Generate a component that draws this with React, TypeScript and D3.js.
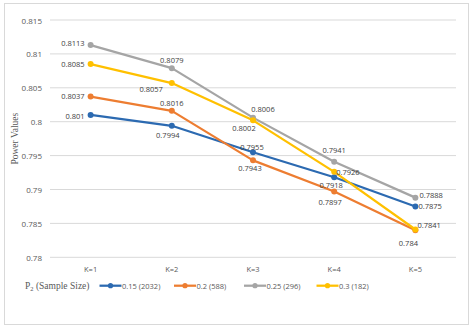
import React from 'react';
import * as d3 from 'd3';

// chart data
const categories = ['K=1', 'K=2', 'K=3', 'K=4', 'K=5'];
const seriesNames = ['0.15 (2032)', '0.2 (588)', '0.25 (296)', '0.3 (182)'];
const p015 = [0.801, 0.7994, 0.7955, 0.7918, 0.7875];
const p02 = [0.8037, 0.8016, 0.7943, 0.7897, 0.784];
const p025 = [0.8113, 0.8079, 0.8006, 0.7941, 0.7888];
const p03 = [0.8085, 0.8057, 0.8002, 0.7926, 0.7841];
const yTicks = [0.78, 0.785, 0.79, 0.795, 0.8, 0.805, 0.81, 0.815];
const labelText = (v: number) => String(v);

const colors = ['#2C6AB1', '#ED7D31', '#A5A5A5', '#FFC000'];

// label placement per series/point: [anchor, dx, dy] relative to the marker
type Place = ['start' | 'middle' | 'end', number, number];
const placements: Place[][] = [
  [['end', -6, 1], ['middle', -4, 9], ['middle', -1, -5], ['middle', -3, 8], ['start', 3, 0]],
  [['end', -6, -1], ['middle', 0, -8], ['middle', -3, 7.5], ['middle', -4, 10], ['middle', -7, 12.5]],
  [['end', -6, -2], ['middle', 0, -8], ['middle', 10, -8.5], ['middle', 0, -12], ['start', 4, -2.5]],
  [['end', -6, 0], ['end', -9, 6], ['middle', -9, 8], ['start', 2, 0.5], ['start', 2, -4.5]],
];

const W = 474;
const H = 330;
const plot = { left: 50, right: 456, top: 20, bottom: 257.3 };

export default function App() {
  const series = [p015, p02, p025, p03];

  const x = d3.scalePoint<string>()
    .domain(categories)
    .range([plot.left, plot.right])
    .padding(0.5);

  const y = d3.scaleLinear()
    .domain([0.78, 0.815])
    .range([plot.bottom, plot.top]);

  const line = d3.line<number>()
    .x((d, i) => x(categories[i]) as number)
    .y(d => y(d));

  const sans = '"Open Sans", sans-serif';
  const serif = '"Liberation Serif", serif';

  // legend layout
  const legendY = 285.7;
  const legendX = [99.5, 174, 244, 316.5];

  return (
    <svg width={W} height={H} style={{ position: 'absolute', left: 0, top: 0, background: '#fff' }}>
      <rect x={4.5} y={3.5} width={464} height={321} fill="#fff" stroke="#d9d9d9" strokeWidth={1} />

      {/* gridlines + y ticks */}
      {yTicks.map(t => (
        <g key={t}>
          <line x1={plot.left} x2={plot.right} y1={y(t)} y2={y(t)} stroke="#d9d9d9" strokeWidth={1} />
          <text x={42} y={y(t)} textAnchor="end" dominantBaseline="central"
            fontFamily={sans} fontSize={8} fill="#595959">{t}</text>
        </g>
      ))}

      {/* category labels */}
      {categories.map(c => (
        <text key={c} x={x(c)} y={269} textAnchor="middle" dominantBaseline="central"
          fontFamily={sans} fontSize={7.5} fill="#595959">{c}</text>
      ))}

      {/* y axis title */}
      <text transform={`translate(15,${(plot.top + plot.bottom) / 2}) rotate(-90)`}
        textAnchor="middle" dominantBaseline="central" fontFamily={serif} fontSize={9.5} fill="#595959">
        Power Values
      </text>

      {/* series lines */}
      {series.map((s, si) => (
        <g key={si}>
          <path d={line(s) || ''} fill="none" stroke={colors[si]} strokeWidth={2.25} strokeLinejoin="round" />
          {s.map((v, i) => (
            <circle key={i} cx={x(categories[i])} cy={y(v)} r={3} fill={colors[si]} />
          ))}
        </g>
      ))}

      {/* data labels */}
      {series.map((s, si) => s.map((v, i) => {
        const [anchor, dx, dy] = placements[si][i];
        return (
          <text key={`${si}-${i}`} x={(x(categories[i]) as number) + dx} y={y(v) + dy}
            textAnchor={anchor} dominantBaseline="central" fontFamily={sans} fontSize={7.5} fill="#404040">
            {labelText(v)}
          </text>
        );
      }))}

      {/* legend */}
      <text x={25} y={legendY} dominantBaseline="central" fontFamily={serif} fontSize={9.5} fill="#595959">
        P<tspan fontSize={6.5} dy={2}>2</tspan><tspan dy={-2}> (Sample Size)</tspan>
      </text>
      {seriesNames.map((n, si) => (
        <g key={n}>
          <line x1={legendX[si]} x2={legendX[si] + 22} y1={legendY} y2={legendY} stroke={colors[si]} strokeWidth={2.25} />
          <circle cx={legendX[si] + 11} cy={legendY} r={2.6} fill={colors[si]} />
          <text x={legendX[si] + 22.5} y={legendY} dominantBaseline="central" fontFamily={sans} fontSize={7.5} fill="#595959">
            {n}
          </text>
        </g>
      ))}
    </svg>
  );
}
